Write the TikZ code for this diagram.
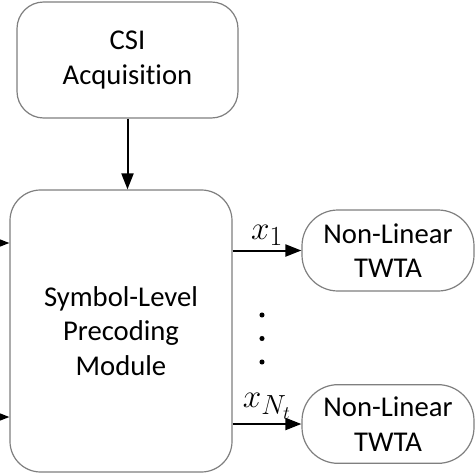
\documentclass[tikz,border=0pt]{standalone}
\usepackage{fontspec}
\setmainfont[Ligatures={NoCommon}]{Carlito}
\usetikzlibrary{arrows.meta,positioning,calc}
\definecolor{SLEdge}{HTML}{7F7F7F}
\definecolor{SLInk}{HTML}{000000}
\tikzset{
  flow/.style={-{Triangle[length=12pt,width=9pt]},SLInk,line width=1.5pt},
  block/.style={draw=SLEdge,line width=0.9pt,fill=white,rounded corners=20pt,
                text=SLInk,align=center,inner sep=0pt,
                font=\fontsize{21.5}{26}\selectfont},
  amp/.style={block,rounded corners=27pt},
  sig/.style={text=SLInk,font=\fontsize{30}{34}\selectfont,inner sep=0pt},
  dot/.style={circle,fill=SLInk,inner sep=0pt,minimum size=3.8pt},
}
\begin{document}
\begin{tikzpicture}[x=0.75pt,y=-0.75pt]
    \useasboundingbox (0,0) rectangle (474,474);
    \node[block,minimum width=165.75pt,minimum height=87pt] (csi) at (127.5,60) {CSI\\Acquisition};
    \node[block,rounded corners=23pt,minimum width=166.5pt,minimum height=211.5pt] (slp) at (121,331)
      {Symbol-Level\\Precoding\\Module};

    \node[amp,minimum width=129pt,minimum height=60.75pt] (twta1) at (388,250.5) {Non-Linear\\TWTA};
    \node[amp,minimum width=129pt,minimum height=59pt] (twta2) at (388,424) {Non-Linear\\TWTA};

    \coordinate (in1) at (-20,243);
    \coordinate (in2) at (-20,417);

    \draw[flow] (csi.south) -- (csi.south |- slp.north);
    \draw[flow] (in1) -- (in1 -| slp.west);
    \draw[flow] (in2) -- (in2 -| slp.west);
    \draw[flow] (slp.east |- twta1.west) -- node[sig,above=3pt] (lab1) {$x_1$} (twta1.west);
    \draw[flow] (slp.east |- twta2.west) -- node[sig,above=3pt] (lab2) {$x_{N_t}$} (twta2.west);

    \foreach \i/\y in {1/315,2/338.5,3/362}
      \node[dot] (d\i) at (262,\y) {};
  \end{tikzpicture}
\end{document}
